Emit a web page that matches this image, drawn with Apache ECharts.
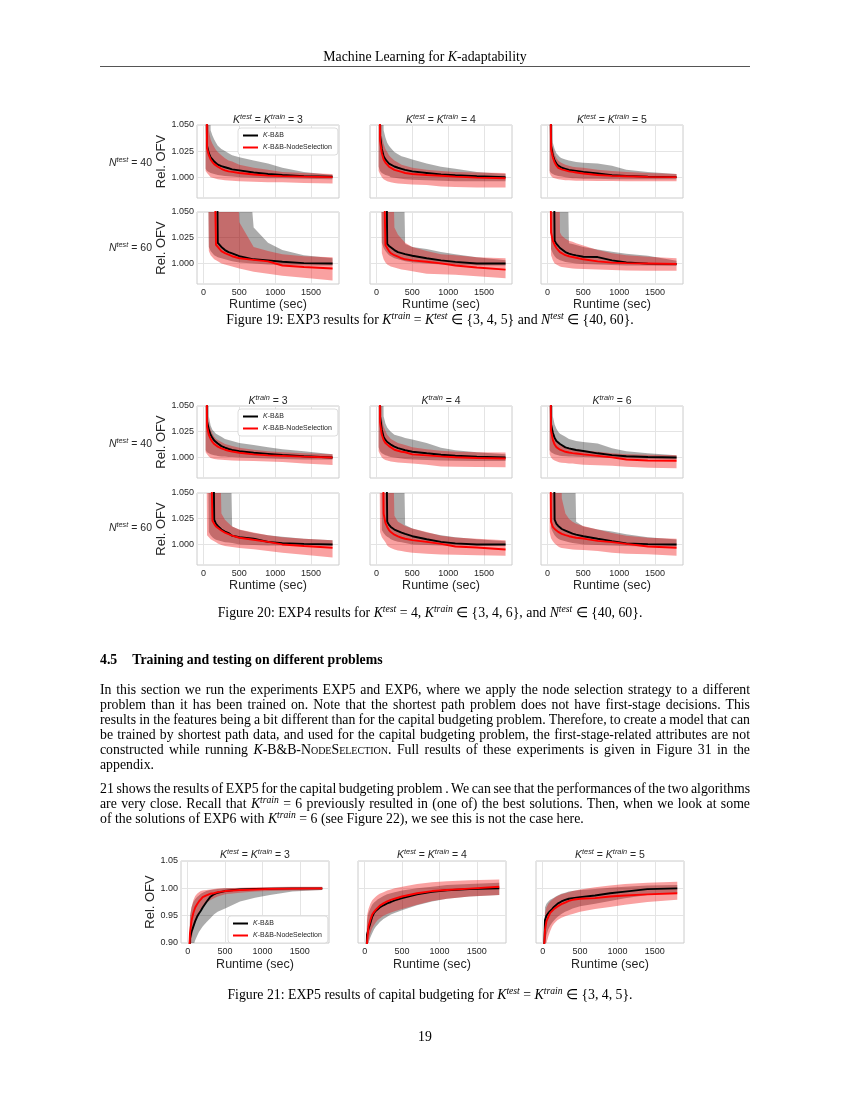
<!DOCTYPE html>
<html><head><meta charset="utf-8">
<script src="https://cdn.jsdelivr.net/npm/echarts@6/dist/echarts.min.js"></script>
<style>
html,body{margin:0;padding:0;background:#fff;}
#page{position:relative;width:850px;height:1100px;overflow:hidden;color:#000;}
#chart{position:absolute;left:0;top:0;width:850px;height:1100px;}
.t{position:absolute;white-space:nowrap;line-height:16px;}
.serif{font-family:"Liberation Serif","Times New Roman",serif;font-size:13.8px;}
.sans{font-family:"Liberation Sans",Arial,sans-serif;color:#262626;font-size:10.5px;text-align:center;}
.row{font-family:"Liberation Sans",Arial,sans-serif;color:#262626;font-size:10.5px;text-align:right;left:52px;width:100px;}
.just{left:100px;width:650px;text-align:justify;text-align-last:justify;white-space:normal;word-spacing:-1.6px;}
.cap{left:0;width:860px;text-align:center;}
sup{font-size:70%;line-height:0;vertical-align:0.5em;}
.sc{font-variant:small-caps;}
</style></head>
<body><div id="page">
<div id="chart"></div>

<div class="t serif" style="left:0;width:850px;text-align:center;top:49px;">Machine Learning for <i>K</i>-adaptability</div>
<div style="position:absolute;left:100px;top:66px;width:650px;height:0;border-top:1px solid #555;"></div>

<!-- Figure 19 labels -->
<div class="t sans" style="left:168px;width:200px;top:111px"><i>K</i><sup><i>test</i></sup> = <i>K</i><sup><i>train</i></sup> = 3</div>
<div class="t sans" style="left:341px;width:200px;top:111px"><i>K</i><sup><i>test</i></sup> = <i>K</i><sup><i>train</i></sup> = 4</div>
<div class="t sans" style="left:512px;width:200px;top:111px"><i>K</i><sup><i>test</i></sup> = <i>K</i><sup><i>train</i></sup> = 5</div>
<div class="t row" style="top:154px"><i>N</i><sup><i>test</i></sup> = 40</div>
<div class="t row" style="top:239px"><i>N</i><sup><i>test</i></sup> = 60</div>
<div class="t serif cap" style="top:312px">Figure 19: EXP3 results for <i>K</i><sup><i>train</i></sup> = <i>K</i><sup><i>test</i></sup> ∈ {3, 4, 5} and <i>N</i><sup><i>test</i></sup> ∈ {40, 60}.</div>

<!-- Figure 20 labels -->
<div class="t sans" style="left:168px;width:200px;top:392px"><i>K</i><sup><i>train</i></sup> = 3</div>
<div class="t sans" style="left:341px;width:200px;top:392px"><i>K</i><sup><i>train</i></sup> = 4</div>
<div class="t sans" style="left:512px;width:200px;top:392px"><i>K</i><sup><i>train</i></sup> = 6</div>
<div class="t row" style="top:435px"><i>N</i><sup><i>test</i></sup> = 40</div>
<div class="t row" style="top:519px"><i>N</i><sup><i>test</i></sup> = 60</div>
<div class="t serif cap" style="top:605px">Figure 20: EXP4 results for <i>K</i><sup><i>test</i></sup> = 4, <i>K</i><sup><i>train</i></sup> ∈ {3, 4, 6}, and <i>N</i><sup><i>test</i></sup> ∈ {40, 60}.</div>

<!-- Section text -->
<div class="t serif" style="left:100px;top:652px;font-weight:bold">4.5<span style="display:inline-block;width:15px"></span>Training and testing on different problems</div>
<div class="t serif just" style="top:682px">In this section we run the experiments EXP5 and EXP6, where we apply the node selection strategy to a different</div>
<div class="t serif just" style="top:697px">problem than it has been trained on. Note that the shortest path problem does not have first-stage decisions. This</div>
<div class="t serif just" style="top:712px">results in the features being a bit different than for the capital budgeting problem. Therefore, to create a model that can</div>
<div class="t serif just" style="top:727px">be trained by shortest path data, and used for the capital budgeting problem, the first-stage-related attributes are not</div>
<div class="t serif just" style="top:742px">constructed while running <i>K</i>-B&amp;B-<span class="sc">NodeSelection</span>. Full results of these experiments is given in Figure 31 in the</div>
<div class="t serif" style="left:100px;top:757px">appendix.</div>
<div class="t serif just" style="top:781px">21 shows the results of EXP5 for the capital budgeting problem . We can see that the performances of the two algorithms</div>
<div class="t serif just" style="top:796px">are very close. Recall that <i>K</i><sup><i>train</i></sup> = 6 previously resulted in (one of) the best solutions. Then, when we look at some</div>
<div class="t serif" style="left:100px;top:811px">of the solutions of EXP6 with <i>K</i><sup><i>train</i></sup> = 6 (see Figure 22), we see this is not the case here.</div>

<!-- Figure 21 labels -->
<div class="t sans" style="left:155px;width:200px;top:846px"><i>K</i><sup><i>test</i></sup> = <i>K</i><sup><i>train</i></sup> = 3</div>
<div class="t sans" style="left:332px;width:200px;top:846px"><i>K</i><sup><i>test</i></sup> = <i>K</i><sup><i>train</i></sup> = 4</div>
<div class="t sans" style="left:510px;width:200px;top:846px"><i>K</i><sup><i>test</i></sup> = <i>K</i><sup><i>train</i></sup> = 5</div>
<div class="t serif cap" style="top:987px">Figure 21: EXP5 results of capital budgeting for <i>K</i><sup><i>test</i></sup> = <i>K</i><sup><i>train</i></sup> ∈ {3, 4, 5}.</div>

<div class="t serif" style="left:0;width:850px;text-align:center;top:1029px">19</div>
</div>
<script>
// ---------------- DATA ----------------
const T = [30, 50, 75, 100, 125, 150, 175, 200, 250, 300, 350, 400, 500, 700, 900, 1100, 1400, 1800];
const T21 = [10, 30, 50, 75, 100, 125, 150, 175, 200, 250, 300, 350, 400, 500, 700, 900, 1100, 1400, 1800];
const H = 1.2;   // above plotted range (off-chart)
const L = 0.8;   // below plotted range (off-chart)
const seriesNames = ['K-B&B', 'K-B&B-NodeSelection'];
const xTicks = [0, 500, 1000, 1500];
const yTicksA = [1.000, 1.025, 1.050];
const yTicksC = [0.90, 0.95, 1.00, 1.05];

// Figure 19: K_test = K_train = 3, N_test = 40
const f19_k3_n40_kbb_mean = [H,1.030,1.023,1.019,1.017,1.015,1.0135,1.012,1.0105,1.0095,1.0085,1.0075,1.0065,1.0045,1.003,1.002,1.001,1.0005];
const f19_k3_n40_kbb_lo   = [1.008,1.006,1.005,1.004,1.0035,1.003,1.0025,1.002,1.0015,1.001,1.0008,1.0005,1.000,0.9995,0.999,0.999,0.9985,0.998];
const f19_k3_n40_kbb_hi   = [H,H,H,1.045,1.040,1.036,1.033,1.030,1.027,1.025,1.023,1.021,1.019,1.016,1.013,1.009,1.005,1.002];
const f19_k3_n40_ns_mean  = [H,1.028,1.021,1.017,1.0145,1.0125,1.011,1.010,1.008,1.0065,1.0055,1.005,1.004,1.0025,1.0015,1.001,1.0005,1.000];
const f19_k3_n40_ns_lo    = [1.006,1.004,1.002,1.000,0.9995,0.999,0.9985,0.998,0.9975,0.997,0.9968,0.9965,0.996,0.9955,0.995,0.995,0.9945,0.994];
const f19_k3_n40_ns_hi    = [H,H,1.045,1.036,1.032,1.029,1.026,1.024,1.021,1.018,1.016,1.015,1.012,1.009,1.007,1.005,1.004,1.003];
// Figure 19: K = 3, N = 60
const f19_k3_n60_kbb_mean = [H,H,H,H,H,H,H,1.020,1.016,1.013,1.011,1.0097,1.007,1.004,1.003,1.0016,1.0003,1.000];
const f19_k3_n60_kbb_lo   = [H,H,1.016,1.012,1.010,1.008,1.007,1.006,1.005,1.004,1.003,1.002,1.001,1.000,0.999,0.9985,0.998,0.998];
const f19_k3_n60_kbb_hi   = [H,H,H,H,H,H,H,H,H,H,H,H,H,1.035,1.020,1.013,1.008,1.005];
const f19_k3_n60_ns_mean  = [H,H,H,H,H,H,1.018,1.016,1.012,1.010,1.0085,1.007,1.005,1.0035,1.002,0.998,0.9965,0.995];
const f19_k3_n60_ns_lo    = [H,H,1.012,1.008,1.006,1.004,1.003,1.002,1.000,0.999,0.998,0.997,0.995,0.992,0.990,0.988,0.986,0.9835];
const f19_k3_n60_ns_hi    = [H,H,H,H,H,H,H,H,H,H,H,H,1.040,1.016,1.012,1.009,1.007,1.006];
// Figure 19: K = 4, N = 40
const f19_k4_n40_kbb_mean = [H,1.040,1.027,1.020,1.017,1.015,1.013,1.012,1.0102,1.009,1.008,1.007,1.0055,1.004,1.0025,1.0018,1.001,1.000];
const f19_k4_n40_kbb_lo   = [1.010,1.006,1.004,1.003,1.002,1.0015,1.001,1.000,0.9995,0.999,0.9985,0.998,0.9975,0.997,0.9965,0.996,0.996,0.996];
const f19_k4_n40_kbb_hi   = [H,H,H,1.045,1.038,1.033,1.030,1.028,1.024,1.022,1.020,1.019,1.017,1.013,1.010,1.008,1.005,1.003];
const f19_k4_n40_ns_mean  = [H,1.035,1.023,1.017,1.014,1.012,1.010,1.009,1.007,1.006,1.005,1.004,1.003,1.002,1.0013,1.0005,0.9995,0.999];
const f19_k4_n40_ns_lo    = [1.006,1.003,1.000,0.998,0.997,0.996,0.9955,0.995,0.9945,0.994,0.9937,0.9935,0.993,0.9925,0.991,0.9905,0.990,0.990];
const f19_k4_n40_ns_hi    = [H,H,1.040,1.032,1.027,1.024,1.021,1.019,1.016,1.014,1.012,1.011,1.009,1.007,1.006,1.005,1.0045,1.004];
// Figure 19: K = 4, N = 60
const f19_k4_n60_kbb_mean = [H,H,H,H,H,1.019,1.017,1.016,1.013,1.011,1.010,1.009,1.0075,1.005,1.003,1.0015,1.000,1.000];
const f19_k4_n60_kbb_lo   = [H,H,1.020,1.015,1.012,1.010,1.008,1.007,1.005,1.004,1.003,1.002,1.001,1.000,0.999,0.9985,0.998,0.998];
const f19_k4_n60_kbb_hi   = [H,H,H,H,H,H,H,H,H,H,H,1.019,1.016,1.014,1.011,1.009,1.006,1.003];
const f19_k4_n60_ns_mean  = [H,H,H,H,1.018,1.015,1.012,1.010,1.008,1.0065,1.005,1.004,1.003,1.0016,1.000,0.998,0.996,0.994];
const f19_k4_n60_ns_lo    = [H,H,1.010,1.004,1.001,0.999,0.998,0.997,0.996,0.995,0.994,0.9935,0.9925,0.990,0.9895,0.989,0.9875,0.9855];
const f19_k4_n60_ns_hi    = [H,H,H,H,H,H,H,H,1.035,1.028,1.024,1.020,1.016,1.012,1.009,1.008,1.006,1.005];
// Figure 19: K = 5, N = 40
const f19_k5_n40_kbb_mean = [H,1.030,1.021,1.016,1.013,1.011,1.0095,1.009,1.008,1.007,1.0065,1.006,1.005,1.0035,1.0018,1.0012,1.0005,1.000];
const f19_k5_n40_kbb_lo   = [1.006,1.004,1.003,1.002,1.0015,1.001,1.0008,1.0005,1.000,0.9995,0.999,0.999,0.9985,0.9985,0.998,0.998,0.998,0.998];
const f19_k5_n40_kbb_hi   = [H,H,1.033,1.027,1.023,1.021,1.019,1.018,1.017,1.016,1.0152,1.0145,1.0137,1.013,1.011,1.007,1.005,1.003];
const f19_k5_n40_ns_mean  = [H,1.027,1.019,1.014,1.011,1.009,1.008,1.0075,1.0065,1.0055,1.005,1.0045,1.0035,1.002,1.0012,1.0008,1.0003,1.000];
const f19_k5_n40_ns_lo    = [1.004,1.001,0.9995,0.999,0.9985,0.998,0.9978,0.9975,0.997,0.997,0.9968,0.9966,0.9965,0.9963,0.9962,0.996,0.996,0.996];
const f19_k5_n40_ns_hi    = [H,1.045,1.029,1.022,1.018,1.016,1.0145,1.0135,1.012,1.011,1.010,1.0095,1.009,1.007,1.006,1.005,1.004,1.003];
// Figure 19: K = 5, N = 60
const f19_k5_n60_kbb_mean = [H,H,H,1.022,1.019,1.017,1.015,1.014,1.011,1.0095,1.0085,1.0078,1.0065,1.0062,1.003,1.001,0.9998,0.9995];
const f19_k5_n60_kbb_lo   = [H,1.014,1.010,1.007,1.005,1.004,1.003,1.0025,1.0015,1.001,1.0005,1.000,0.9995,0.999,0.9985,0.998,0.998,0.9975];
const f19_k5_n60_kbb_hi   = [H,H,H,H,H,H,H,H,H,1.0195,1.019,1.018,1.016,1.0135,1.0114,1.0095,1.0075,1.0026];
const f19_k5_n60_ns_mean  = [H,1.030,1.022,1.018,1.015,1.013,1.011,1.010,1.008,1.007,1.0062,1.0055,1.004,1.002,1.0008,1.0003,1.000,0.9995];
const f19_k5_n60_ns_lo    = [H,1.008,1.003,1.000,0.999,0.998,0.997,0.9965,0.996,0.9955,0.995,0.9948,0.9945,0.994,0.9935,0.9932,0.993,0.993];
const f19_k5_n60_ns_hi    = [H,H,H,H,H,H,1.030,1.027,1.024,1.022,1.021,1.0195,1.0175,1.013,1.010,1.008,1.0065,1.005];

// Figure 20: K_train = 3, N = 40
const f20_k3_n40_kbb_mean = [H,1.035,1.027,1.022,1.019,1.0165,1.015,1.0135,1.011,1.0095,1.0082,1.0072,1.006,1.0045,1.0035,1.0025,1.0012,1.000];
const f20_k3_n40_kbb_lo   = [1.007,1.005,1.004,1.003,1.0025,1.002,1.0018,1.0015,1.001,1.0008,1.0005,1.0003,1.000,0.9995,0.999,0.9985,0.998,0.998];
const f20_k3_n40_kbb_hi   = [H,H,1.040,1.031,1.027,1.025,1.023,1.022,1.020,1.018,1.017,1.016,1.014,1.012,1.010,1.008,1.006,1.003];
const f20_k3_n40_ns_mean  = [H,1.030,1.022,1.018,1.015,1.013,1.0115,1.0105,1.0088,1.0075,1.0065,1.0058,1.0045,1.003,1.002,1.0015,1.0008,1.000];
const f20_k3_n40_ns_lo    = [1.005,1.003,1.001,0.9995,0.999,0.9985,0.9982,0.998,0.9978,0.9975,0.9972,0.997,0.9968,0.9965,0.996,0.9955,0.994,0.9927];
const f20_k3_n40_ns_hi    = [H,1.045,1.033,1.027,1.023,1.020,1.018,1.017,1.015,1.013,1.012,1.011,1.0095,1.0075,1.006,1.005,1.004,1.003];
// Figure 20: K_train = 3, N = 60
const f20_k3_n60_kbb_mean = [H,H,H,H,H,1.024,1.020,1.018,1.0145,1.0125,1.011,1.0085,1.007,1.0055,1.0025,1.0013,1.0005,1.000];
const f20_k3_n60_kbb_lo   = [H,H,1.012,1.009,1.007,1.0055,1.0045,1.004,1.003,1.0022,1.0018,1.0015,1.000,0.9995,0.999,0.999,0.999,0.999];
const f20_k3_n60_kbb_hi   = [H,H,H,H,H,H,H,H,H,H,H,1.0175,1.0143,1.011,1.009,1.0075,1.0055,1.004];
const f20_k3_n60_ns_mean  = [H,H,H,H,1.023,1.020,1.0175,1.016,1.0135,1.0115,1.010,1.0085,1.0065,1.0045,1.0025,1.000,0.9985,0.9968];
const f20_k3_n60_ns_lo    = [H,1.009,1.007,1.005,1.004,1.0032,1.002,1.001,0.9995,0.9985,0.998,0.9975,0.9965,0.9952,0.9935,0.992,0.990,0.9873];
const f20_k3_n60_ns_hi    = [H,H,H,H,H,H,H,H,1.030,1.024,1.0205,1.0175,1.0145,1.0115,1.009,1.007,1.0055,1.004];
// Figure 20: K_train = 4, N = 40
const f20_k4_n40_kbb_mean = [H,1.040,1.027,1.020,1.017,1.015,1.0135,1.0125,1.0105,1.009,1.008,1.007,1.0055,1.004,1.0026,1.0016,1.0008,1.000];
const f20_k4_n40_kbb_lo   = [1.010,1.006,1.004,1.003,1.0022,1.0016,1.001,1.0005,1.000,0.9995,0.999,0.9985,0.998,0.9975,0.997,0.9968,0.9965,0.9965];
const f20_k4_n40_kbb_hi   = [H,H,H,1.040,1.033,1.029,1.027,1.025,1.022,1.021,1.020,1.019,1.0175,1.014,1.0095,1.007,1.005,1.003];
const f20_k4_n40_ns_mean  = [H,1.034,1.022,1.017,1.014,1.0125,1.011,1.0095,1.0075,1.0065,1.0055,1.005,1.003,1.002,1.001,1.0002,0.9995,0.999];
const f20_k4_n40_ns_lo    = [1.006,1.003,1.000,0.9985,0.9975,0.997,0.9965,0.996,0.9955,0.995,0.9948,0.9945,0.994,0.993,0.9912,0.991,0.9906,0.9905];
const f20_k4_n40_ns_hi    = [H,H,1.038,1.030,1.026,1.022,1.020,1.018,1.016,1.014,1.013,1.012,1.010,1.008,1.0065,1.0055,1.005,1.0048];
// Figure 20: K_train = 4, N = 60
const f20_k4_n60_kbb_mean = [H,H,H,H,H,1.022,1.019,1.017,1.0145,1.013,1.0115,1.0102,1.008,1.005,1.0025,1.001,1.000,1.000];
const f20_k4_n60_kbb_lo   = [H,H,1.014,1.011,1.009,1.0075,1.0065,1.005,1.0035,1.0025,1.002,1.0015,1.000,0.9995,0.999,0.999,0.999,0.999];
const f20_k4_n60_kbb_hi   = [H,H,H,H,H,H,H,H,H,H,H,1.019,1.0155,1.0115,1.009,1.007,1.005,1.003];
const f20_k4_n60_ns_mean  = [H,H,H,1.030,1.021,1.017,1.014,1.012,1.0095,1.0078,1.0065,1.0055,1.0042,1.0025,1.0005,0.998,0.997,0.995];
const f20_k4_n60_ns_lo    = [H,1.012,1.007,1.0045,1.002,0.999,0.9975,0.9965,0.995,0.994,0.9935,0.993,0.992,0.991,0.9902,0.990,0.9895,0.9889];
const f20_k4_n60_ns_hi    = [H,H,H,H,H,H,H,H,1.028,1.022,1.020,1.018,1.0155,1.012,1.0085,1.0068,1.0055,1.004];
// Figure 20: K_train = 6, N = 40
const f20_k6_n40_kbb_mean = [H,1.032,1.024,1.019,1.016,1.0145,1.013,1.012,1.0098,1.0088,1.008,1.0072,1.0062,1.004,1.0022,1.0012,1.0004,1.000];
const f20_k6_n40_kbb_lo   = [1.007,1.005,1.004,1.003,1.0025,1.002,1.0017,1.0015,1.0012,1.001,1.0008,1.0006,1.0003,1.000,0.9995,0.999,0.9985,0.998];
const f20_k6_n40_kbb_hi   = [H,H,1.040,1.032,1.028,1.025,1.023,1.022,1.020,1.018,1.017,1.016,1.015,1.0135,1.009,1.006,1.004,1.002];
const f20_k6_n40_ns_mean  = [H,1.026,1.017,1.0125,1.010,1.0085,1.0075,1.0065,1.0055,1.0048,1.0042,1.0038,1.003,1.0015,1.000,0.998,0.997,0.9968];
const f20_k6_n40_ns_lo    = [1.003,1.000,0.998,0.997,0.9962,0.9955,0.995,0.9948,0.9945,0.9942,0.994,0.9935,0.993,0.9925,0.992,0.991,0.990,0.9895];
const f20_k6_n40_ns_hi    = [H,1.040,1.028,1.021,1.017,1.0145,1.013,1.012,1.0105,1.0095,1.0088,1.008,1.007,1.0055,1.004,1.003,1.0025,1.002];
// Figure 20: K_train = 6, N = 60
const f20_k6_n60_kbb_mean = [H,H,H,1.024,1.020,1.018,1.0165,1.015,1.0135,1.012,1.0105,1.0095,1.008,1.0055,1.0032,1.001,1.0003,1.000];
const f20_k6_n60_kbb_lo   = [H,1.016,1.012,1.009,1.007,1.0055,1.0045,1.004,1.003,1.002,1.0015,1.001,1.000,0.9995,0.999,0.9985,0.998,0.998];
const f20_k6_n60_kbb_hi   = [H,H,H,H,H,H,H,H,H,H,H,1.022,1.0175,1.0145,1.0125,1.010,1.007,1.0048];
const f20_k6_n60_ns_mean  = [H,1.022,1.017,1.015,1.0135,1.0122,1.011,1.0102,1.009,1.008,1.0072,1.0065,1.0057,1.0035,1.0022,1.0005,0.998,0.9968];
const f20_k6_n60_ns_lo    = [1.012,1.006,1.003,1.001,0.9995,0.998,0.997,0.9965,0.996,0.9955,0.995,0.9948,0.9945,0.9935,0.992,0.991,0.9905,0.9889];
const f20_k6_n60_ns_hi    = [H,H,H,H,H,H,H,1.045,1.030,1.025,1.022,1.020,1.018,1.0145,1.011,1.0085,1.0065,1.0054];

// Figure 21: K_test = K_train = 3
const f21_k3_kbb_mean = [L,0.908,0.920,0.930,0.940,0.948,0.954,0.959,0.965,0.975,0.984,0.989,0.992,0.995,0.998,0.999,0.9995,1.000,1.000];
const f21_k3_kbb_lo   = [L,L,L,0.895,0.905,0.913,0.920,0.925,0.930,0.938,0.945,0.952,0.957,0.963,0.976,0.983,0.988,0.994,0.997];
const f21_k3_kbb_hi   = [L,0.950,0.965,0.975,0.980,0.984,0.987,0.990,0.992,0.995,0.997,0.998,0.999,1.000,1.000,1.000,1.000,1.000,1.000];
const f21_k3_ns_mean  = [0.850,0.918,0.940,0.955,0.965,0.971,0.976,0.980,0.984,0.987,0.990,0.991,0.993,0.995,0.997,0.998,0.999,0.9995,1.000];
const f21_k3_ns_lo    = [L,L,0.905,0.925,0.940,0.950,0.957,0.962,0.967,0.973,0.978,0.982,0.985,0.989,0.992,0.994,0.995,0.996,0.997];
const f21_k3_ns_hi    = [L,0.945,0.965,0.978,0.986,0.990,0.993,0.995,0.996,0.997,0.998,0.999,0.9995,1.000,1.001,1.002,1.0025,1.003,1.003];
// Figure 21: K = 4
const f21_k4_kbb_mean = [L,0.915,0.925,0.936,0.948,0.955,0.959,0.962,0.965,0.969,0.9725,0.975,0.978,0.982,0.989,0.9935,0.9965,0.9985,1.000];
const f21_k4_kbb_lo   = [L,L,0.900,0.910,0.918,0.925,0.930,0.934,0.938,0.944,0.948,0.952,0.955,0.960,0.969,0.976,0.981,0.985,0.988];
const f21_k4_kbb_hi   = [L,0.940,0.955,0.963,0.970,0.974,0.977,0.980,0.982,0.986,0.989,0.991,0.993,0.996,1.000,1.003,1.006,1.008,1.010];
const f21_k4_ns_mean  = [L,0.900,0.930,0.942,0.952,0.957,0.961,0.964,0.968,0.9725,0.976,0.979,0.981,0.985,0.991,0.995,0.997,0.9995,1.003];
const f21_k4_ns_lo    = [L,L,0.905,0.918,0.927,0.933,0.938,0.942,0.945,0.950,0.953,0.956,0.958,0.962,0.970,0.977,0.981,0.985,0.988];
const f21_k4_ns_hi    = [L,0.950,0.962,0.972,0.978,0.982,0.985,0.988,0.990,0.993,0.996,0.998,1.000,1.003,1.008,1.011,1.013,1.015,1.016];
// Figure 21: K = 5
const f21_k5_kbb_mean = [0.850,0.942,0.950,0.955,0.958,0.962,0.966,0.969,0.972,0.976,0.979,0.981,0.982,0.984,0.987,0.991,0.994,0.9985,1.000];
const f21_k5_kbb_lo   = [L,0.900,0.915,0.925,0.932,0.937,0.941,0.945,0.948,0.953,0.957,0.960,0.963,0.967,0.972,0.977,0.982,0.988,0.992];
const f21_k5_kbb_hi   = [L,0.965,0.972,0.976,0.979,0.981,0.983,0.985,0.987,0.990,0.992,0.994,0.995,0.997,0.999,1.001,1.003,1.005,1.006];
const f21_k5_ns_mean  = [0.870,0.924,0.940,0.948,0.955,0.958,0.962,0.965,0.967,0.971,0.974,0.977,0.979,0.981,0.982,0.985,0.987,0.989,0.991];
const f21_k5_ns_lo    = [L,L,0.900,0.912,0.922,0.930,0.935,0.939,0.942,0.946,0.949,0.951,0.953,0.957,0.962,0.966,0.970,0.975,0.979];
const f21_k5_ns_hi    = [L,0.955,0.965,0.972,0.976,0.979,0.982,0.984,0.986,0.989,0.991,0.993,0.995,0.998,1.002,1.005,1.008,1.010,1.012];

// ---------------- LAYOUT ----------------
const SANS = '"Liberation Sans", Arial, Helvetica, sans-serif';
const colsA = [197, 370, 541], wA = 142;
const colsC = [181, 358, 536], wC = 148;
const XMIN = -90, XMAX = 1890;

const panels = [];
function P(left, top, w, h, xs, kind, showX, showY, kbb, ns) {
  panels.push({left, top, w, h, xs, kind, showX, showY, kbb, ns});
}
// Figure 19
P(colsA[0],125,wA,73,T,'A',false,true,[f19_k3_n40_kbb_lo,f19_k3_n40_kbb_mean,f19_k3_n40_kbb_hi],[f19_k3_n40_ns_lo,f19_k3_n40_ns_mean,f19_k3_n40_ns_hi]);
P(colsA[1],125,wA,73,T,'A',false,false,[f19_k4_n40_kbb_lo,f19_k4_n40_kbb_mean,f19_k4_n40_kbb_hi],[f19_k4_n40_ns_lo,f19_k4_n40_ns_mean,f19_k4_n40_ns_hi]);
P(colsA[2],125,wA,73,T,'A',false,false,[f19_k5_n40_kbb_lo,f19_k5_n40_kbb_mean,f19_k5_n40_kbb_hi],[f19_k5_n40_ns_lo,f19_k5_n40_ns_mean,f19_k5_n40_ns_hi]);
P(colsA[0],212,wA,72,T,'A',true,true,[f19_k3_n60_kbb_lo,f19_k3_n60_kbb_mean,f19_k3_n60_kbb_hi],[f19_k3_n60_ns_lo,f19_k3_n60_ns_mean,f19_k3_n60_ns_hi]);
P(colsA[1],212,wA,72,T,'A',true,false,[f19_k4_n60_kbb_lo,f19_k4_n60_kbb_mean,f19_k4_n60_kbb_hi],[f19_k4_n60_ns_lo,f19_k4_n60_ns_mean,f19_k4_n60_ns_hi]);
P(colsA[2],212,wA,72,T,'A',true,false,[f19_k5_n60_kbb_lo,f19_k5_n60_kbb_mean,f19_k5_n60_kbb_hi],[f19_k5_n60_ns_lo,f19_k5_n60_ns_mean,f19_k5_n60_ns_hi]);
// Figure 20
P(colsA[0],406,wA,72,T,'A',false,true,[f20_k3_n40_kbb_lo,f20_k3_n40_kbb_mean,f20_k3_n40_kbb_hi],[f20_k3_n40_ns_lo,f20_k3_n40_ns_mean,f20_k3_n40_ns_hi]);
P(colsA[1],406,wA,72,T,'A',false,false,[f20_k4_n40_kbb_lo,f20_k4_n40_kbb_mean,f20_k4_n40_kbb_hi],[f20_k4_n40_ns_lo,f20_k4_n40_ns_mean,f20_k4_n40_ns_hi]);
P(colsA[2],406,wA,72,T,'A',false,false,[f20_k6_n40_kbb_lo,f20_k6_n40_kbb_mean,f20_k6_n40_kbb_hi],[f20_k6_n40_ns_lo,f20_k6_n40_ns_mean,f20_k6_n40_ns_hi]);
P(colsA[0],493,wA,72,T,'A',true,true,[f20_k3_n60_kbb_lo,f20_k3_n60_kbb_mean,f20_k3_n60_kbb_hi],[f20_k3_n60_ns_lo,f20_k3_n60_ns_mean,f20_k3_n60_ns_hi]);
P(colsA[1],493,wA,72,T,'A',true,false,[f20_k4_n60_kbb_lo,f20_k4_n60_kbb_mean,f20_k4_n60_kbb_hi],[f20_k4_n60_ns_lo,f20_k4_n60_ns_mean,f20_k4_n60_ns_hi]);
P(colsA[2],493,wA,72,T,'A',true,false,[f20_k6_n60_kbb_lo,f20_k6_n60_kbb_mean,f20_k6_n60_kbb_hi],[f20_k6_n60_ns_lo,f20_k6_n60_ns_mean,f20_k6_n60_ns_hi]);
// Figure 21
P(colsC[0],861,wC,82,T21,'C',true,true,[f21_k3_kbb_lo,f21_k3_kbb_mean,f21_k3_kbb_hi],[f21_k3_ns_lo,f21_k3_ns_mean,f21_k3_ns_hi]);
P(colsC[1],861,wC,82,T21,'C',true,false,[f21_k4_kbb_lo,f21_k4_kbb_mean,f21_k4_kbb_hi],[f21_k4_ns_lo,f21_k4_ns_mean,f21_k4_ns_hi]);
P(colsC[2],861,wC,82,T21,'C',true,false,[f21_k5_kbb_lo,f21_k5_kbb_mean,f21_k5_kbb_hi],[f21_k5_ns_lo,f21_k5_ns_mean,f21_k5_ns_hi]);

const GRAY_BAND = 'rgba(0,0,0,0.33)';
const RED_BAND = 'rgba(240,0,0,0.37)';
const gridColor = '#e4e4e4';
const labelColor = '#262626';

function band(i, xs, lo, hi, color, z) {
  return {
    type: 'custom', xAxisIndex: i, yAxisIndex: i, clip: true, silent: true, z: z,
    data: xs.map((t, k) => [t, lo[k], hi[k]]),
    encode: {x: 0, y: [1, 2]},
    renderItem: function (params, api) {
      if (params.dataIndex !== 0) return null;
      const pts = [];
      for (let k = 0; k < xs.length; k++) pts.push(api.coord([xs[k], hi[k]]));
      for (let k = xs.length - 1; k >= 0; k--) pts.push(api.coord([xs[k], lo[k]]));
      return {type: 'polygon', shape: {points: pts}, style: {fill: color}};
    }
  };
}
function line(i, xs, vals, name, color, z) {
  return {
    type: 'line', name: name, xAxisIndex: i, yAxisIndex: i, clip: true, silent: true, z: z,
    data: xs.map((t, k) => [t, vals[k]]),
    symbol: 'none', showSymbol: false, smooth: false,
    lineStyle: {color: color, width: 1.9}, itemStyle: {color: color}
  };
}

const grid = [], xAxis = [], yAxis = [], series = [];
panels.forEach((p, i) => {
  const isA = p.kind === 'A';
  grid.push({left: p.left, top: p.top, width: p.w, height: p.h, show: true,
             borderColor: '#cccccc', borderWidth: 1, backgroundColor: '#ffffff'});
  xAxis.push({
    type: 'value', gridIndex: i, min: XMIN, max: XMAX,
    axisLine: {show: false}, axisTick: {show: false, customValues: xTicks},
    axisLabel: {show: p.showX, customValues: xTicks, fontSize: 9, color: labelColor, margin: 4, fontFamily: SANS,
                formatter: v => String(v)},
    splitLine: {show: true, lineStyle: {color: gridColor, width: 1}},
    name: p.showX ? 'Runtime (sec)' : '', nameLocation: 'middle', nameGap: isA ? 14 : 15,
    nameTextStyle: {fontSize: 12.5, color: labelColor, fontFamily: SANS}
  });
  const yt = isA ? yTicksA : yTicksC;
  yAxis.push({
    type: 'value', gridIndex: i, min: isA ? 0.98 : 0.90, max: 1.05,
    axisLine: {show: false}, axisTick: {show: false, customValues: yt},
    axisLabel: {show: p.showY, customValues: yt, fontSize: 9, color: labelColor, margin: 3, fontFamily: SANS,
                formatter: v => v.toFixed(isA ? 3 : 2)},
    splitLine: {show: true, lineStyle: {color: gridColor, width: 1}},
    name: p.showY ? 'Rel. OFV' : '', nameLocation: 'middle', nameGap: isA ? 26 : 24,
    nameTextStyle: {fontSize: 13, color: labelColor, fontFamily: SANS}
  });
  series.push(band(i, p.xs, p.kbb[0], p.kbb[2], GRAY_BAND, 1));
  series.push(band(i, p.xs, p.ns[0], p.ns[2], RED_BAND, 2));
  series.push(line(i, p.xs, p.kbb[1], seriesNames[0], '#000000', 3));
  series.push(line(i, p.xs, p.ns[1], seriesNames[1], '#ff0000', 4));
});

const legendBase = {
  orient: 'vertical', data: seriesNames, icon: 'rect', itemWidth: 15, itemHeight: 2, itemGap: 5,
  padding: [4, 6, 4, 5], backgroundColor: '#ffffff', borderColor: '#d4d4d4', borderWidth: 0.8, borderRadius: 3,
  selectedMode: false, z: 10,
  formatter: n => '{i|K}' + n.slice(1),
  textStyle: {fontSize: 7, color: labelColor, fontFamily: SANS,
              rich: {i: {fontStyle: 'italic', fontSize: 7, color: labelColor, fontFamily: SANS}}}
};

const chart = echarts.init(document.getElementById('chart'), null, {renderer: 'canvas'});
chart.setOption({
  animation: false,
  backgroundColor: 'transparent',
  grid, xAxis, yAxis, series,
  legend: [
    Object.assign({}, legendBase, {left: 238, top: 128}),
    Object.assign({}, legendBase, {left: 238, top: 409}),
    Object.assign({}, legendBase, {left: 228, top: 916})
  ]
});
</script>
</body></html>
